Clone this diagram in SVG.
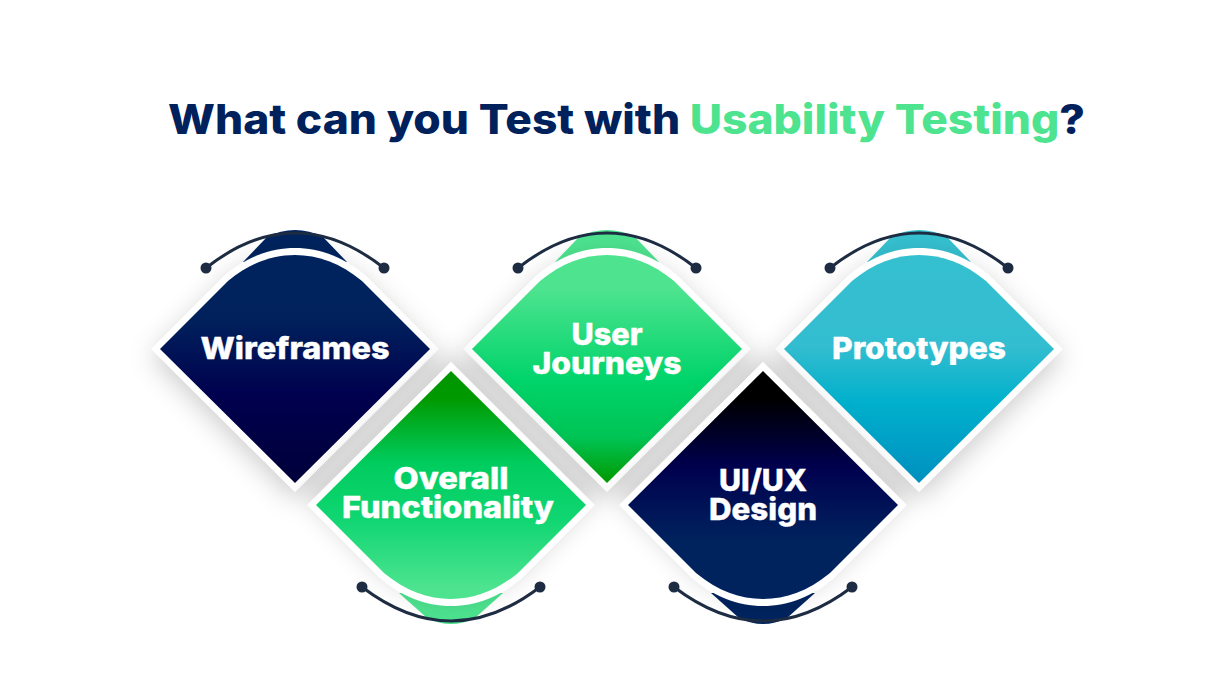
<svg xmlns="http://www.w3.org/2000/svg" width="1213" height="691" viewBox="0 0 1213 691">
<style>
text{font-family:"Inter","Liberation Sans",sans-serif;font-weight:800;text-anchor:middle}
.t{font-size:30px;fill:#fff;stroke:#fff;stroke-width:.4px}
.h{font-size:41px;font-weight:800;text-anchor:start}
.arc{fill:none;stroke:#1d2c42;stroke-width:3}
.dot{fill:#1d2c42}
.w{fill:#fff;filter:url(#sh)}
</style>
<defs>
<filter id="sh" x="-30%" y="-30%" width="160%" height="160%"><feDropShadow dx="0" dy="8" stdDeviation="13" flood-color="#000" flood-opacity=".2"/></filter>
<linearGradient id="g1" x1="0" y1="0" x2="0" y2="1"><stop offset="0" stop-color="#00235e"/><stop offset=".28" stop-color="#00215c"/><stop offset=".62" stop-color="#00004e"/><stop offset="1" stop-color="#00003a"/></linearGradient>
<linearGradient id="g2" x1="0" y1="1" x2="0" y2="0"><stop offset="0" stop-color="#009500"/><stop offset=".12" stop-color="#009a00"/><stop offset=".4" stop-color="#00cc5e"/><stop offset=".65" stop-color="#10d672"/><stop offset=".95" stop-color="#4de38f"/></linearGradient>
<linearGradient id="g3" x1="0" y1="0" x2="0" y2="1"><stop offset="0" stop-color="#4de38f"/><stop offset=".15" stop-color="#4de38f"/><stop offset=".55" stop-color="#00d46a"/><stop offset=".8" stop-color="#00c455"/><stop offset="1" stop-color="#009a00"/></linearGradient>
<linearGradient id="g4" x1="0" y1="1" x2="0" y2="0"><stop offset="0" stop-color="#000"/><stop offset=".12" stop-color="#000"/><stop offset=".42" stop-color="#00004e"/><stop offset=".75" stop-color="#00235e"/><stop offset="1" stop-color="#00235e"/></linearGradient>
<linearGradient id="g5" x1="0" y1="0" x2="0" y2="1"><stop offset="0" stop-color="#35c0d0"/><stop offset=".4" stop-color="#33bdd0"/><stop offset=".65" stop-color="#00b0cc"/><stop offset="1" stop-color="#0090c0"/></linearGradient>
<path id="up" d="M-143.500 98L-74 28C-50 6-25-3 0-3S50 6 74 28L143.500 98L0 241Z"/>
<path id="upi" d="M-135 98L-67 30C-45 12-23 4 0 4S45 12 67 30L135 98L0 232Z"/>
</defs>
<g id="title"><text class="h" x="168" y="134" fill="#00215c" textLength="917" lengthAdjust="spacingAndGlyphs">What can you Test with <tspan fill="#4de38f">Usability Testing</tspan>?</text></g>
<g id="node-wireframes" transform="translate(295 251)">
<path d="M-52 11L-28-14Q0-28 28-14L52 11Z" fill="#00235e"/>
<use href="#up" class="w"/><use href="#upi" fill="url(#g1)"/>
<text class="t" y="108" textLength="189" lengthAdjust="spacingAndGlyphs">Wireframes</text>
</g>
<g id="node-journeys" transform="translate(607 251)">
<path d="M-52 11L-28-14Q0-28 28-14L52 11Z" fill="#4de38f"/>
<use href="#up" class="w"/><use href="#upi" fill="url(#g3)"/>
<text class="t" y="94" textLength="71" lengthAdjust="spacingAndGlyphs">User</text><text class="t" y="123" textLength="149" lengthAdjust="spacingAndGlyphs">Journeys</text>
</g>
<g id="node-prototypes" transform="translate(919 251)">
<path d="M-52 11L-28-14Q0-28 28-14L52 11Z" fill="#35c0d0"/>
<use href="#up" class="w"/><use href="#upi" fill="url(#g5)"/>
<text class="t" y="108" textLength="174" lengthAdjust="spacingAndGlyphs">Prototypes</text>
</g>
<g id="node-functionality" transform="translate(451 603)">
<path d="M-52-10L-24 15Q0 27 24 15L52-10Z" fill="#4de38f"/>
<use href="#up" class="w" transform="scale(1 -1)"/><use href="#upi" fill="url(#g2)" transform="scale(1 -1)"/>
<text class="t" y="-114" textLength="115" lengthAdjust="spacingAndGlyphs">Overall</text><text class="t" y="-85" x="-3" textLength="212" lengthAdjust="spacingAndGlyphs">Functionality</text>
</g>
<g id="node-uiux" transform="translate(763 603)">
<path d="M-52-10L-24 15Q0 27 24 15L52-10Z" fill="#00235e"/>
<use href="#up" class="w" transform="scale(1 -1)"/><use href="#upi" fill="url(#g4)" transform="scale(1 -1)"/>
<text class="t" y="-112" textLength="88" lengthAdjust="spacingAndGlyphs">UI/UX</text><text class="t" y="-83" textLength="108" lengthAdjust="spacingAndGlyphs">Design</text>
</g>
<g id="connectors">
<path class="arc" d="M206 268Q295 198 384 268"/><circle class="dot" cx="206" cy="268" r="5.500"/><circle class="dot" cx="384" cy="268" r="5.500"/>
<path class="arc" d="M518 268Q607 198 696 268"/><circle class="dot" cx="518" cy="268" r="5.500"/><circle class="dot" cx="696" cy="268" r="5.500"/>
<path class="arc" d="M830 268Q919 198 1008 268"/><circle class="dot" cx="830" cy="268" r="5.500"/><circle class="dot" cx="1008" cy="268" r="5.500"/>
<path class="arc" d="M362 587Q451 655 540 587"/><circle class="dot" cx="362" cy="587" r="5.500"/><circle class="dot" cx="540" cy="587" r="5.500"/>
<path class="arc" d="M674 587Q763 655 852 587"/><circle class="dot" cx="674" cy="587" r="5.500"/><circle class="dot" cx="852" cy="587" r="5.500"/>
</g>
</svg>
